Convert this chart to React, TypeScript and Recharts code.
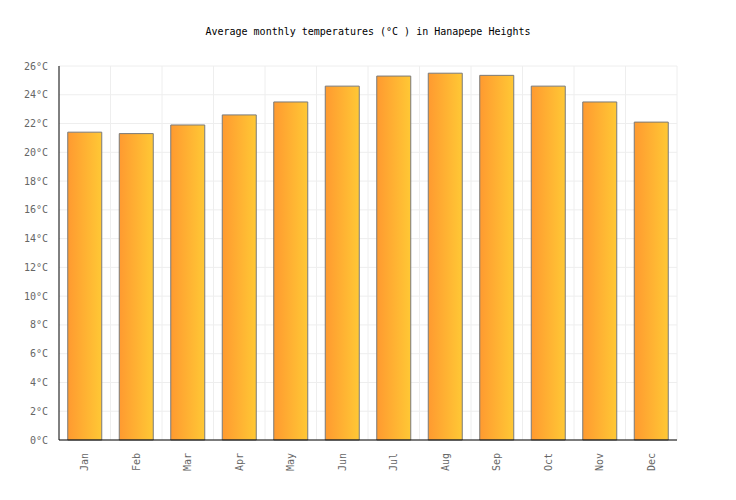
import { BarChart, Bar, XAxis, YAxis, CartesianGrid } from "recharts";

const months = ["Jan", "Feb", "Mar", "Apr", "May", "Jun", "Jul", "Aug", "Sep", "Oct", "Nov", "Dec"];
const temps = [21.4, 21.3, 21.9, 22.6, 23.5, 24.6, 25.3, 25.5, 25.35, 24.6, 23.5, 22.1];
const yTicks = [0, 2, 4, 6, 8, 10, 12, 14, 16, 18, 20, 22, 24, 26];

const FONT = "'DejaVu Sans Mono', monospace";

const data = months.map((month, i) => ({ month, temp: temps[i] }));

function MonthTick(props: any) {
  const { x, y, payload } = props;
  return (
    <text
      x={x}
      y={y}
      transform={`rotate(-90, ${x}, ${y})`}
      textAnchor="end"
      dominantBaseline="central"
      fill="#666"
      fontSize={10}
      fontFamily={FONT}
    >
      {payload.value}
    </text>
  );
}

export default function App() {
  return (
    <div style={{ position: "absolute", left: 0, top: 0, width: 736, height: 500, background: "#fff" }}>
      <div
        style={{
          position: "absolute",
          top: 26,
          left: 0,
          width: 736,
          textAlign: "center",
          fontFamily: FONT,
          fontSize: 10,
          color: "#000",
        }}
      >
        Average monthly temperatures (°C ) in Hanapepe Heights
      </div>
      <BarChart
        width={736}
        height={500}
        data={data}
        margin={{ top: 66, right: 59, bottom: 20, left: 0 }}
        barCategoryGap="17%"
      >
        <defs>
          <linearGradient id="barFill" x1="0" y1="0" x2="1" y2="0">
            <stop offset="0%" stopColor="#FF9A30" />
            <stop offset="100%" stopColor="#FFC835" />
          </linearGradient>
        </defs>
        <CartesianGrid
          stroke="#eeeeee"
          verticalCoordinatesGenerator={({ offset }: any) =>
            months.map((_, i) => offset.left + ((i + 1) * offset.width) / months.length)
          }
        />
        <XAxis
          dataKey="month"
          axisLine={{ stroke: "#000" }}
          tickLine={false}
          height={40}
          tick={<MonthTick />}
          tickMargin={7}
          interval={0}
        />
        <YAxis
          width={59}
          domain={[0, 26]}
          ticks={yTicks}
          interval={0}
          axisLine={{ stroke: "#000" }}
          tickLine={false}
          tickMargin={5}
          tickFormatter={(v: number) => `${v}°C`}
          tick={{ fill: "#666", fontSize: 10, fontFamily: FONT }}
        />
        <Bar dataKey="temp" fill="url(#barFill)" stroke="#7a7a7a" strokeWidth={1} isAnimationActive={false} />
      </BarChart>
    </div>
  );
}
